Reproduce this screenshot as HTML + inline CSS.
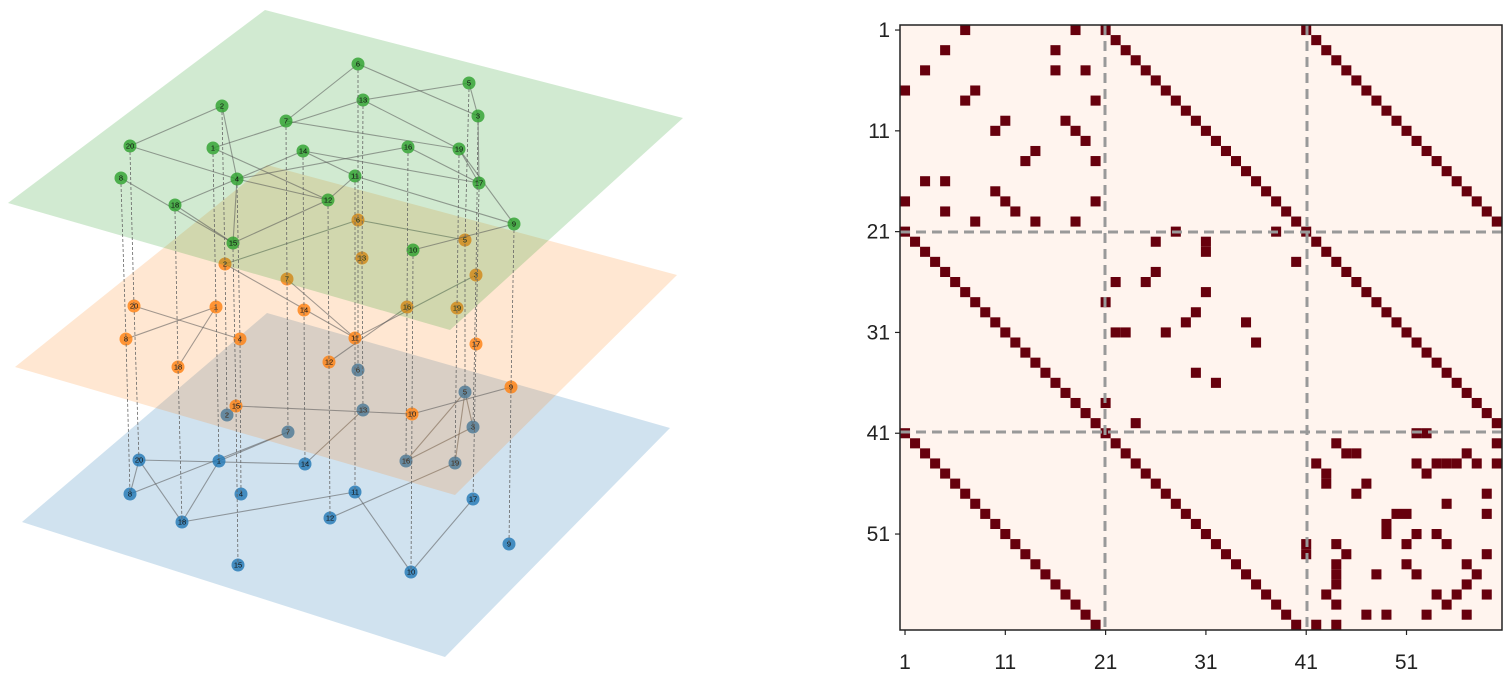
<!DOCTYPE html>
<html><head><meta charset="utf-8"><style>
html,body{margin:0;padding:0;background:#fff;}
svg{display:block;font-family:"Liberation Sans","DejaVu Sans",sans-serif;}
</style></head><body>
<svg id="s" width="1512" height="679" viewBox="0 0 1512 679" xmlns="http://www.w3.org/2000/svg">
<g id="left"></g>
<g id="right"></g>
</svg>
<script>
const NS="http://www.w3.org/2000/svg";
function el(p,t,a,txt){const e=document.createElementNS(NS,t);for(const k in a)e.setAttribute(k,a[k]);if(txt!==undefined)e.textContent=txt;p.appendChild(e);return e;}
const L=document.getElementById('left'),R=document.getElementById('right');
const G={6:[358,64],5:[469,83],2:[222,106],13:[363,100],3:[478,116],7:[286,121],20:[130,146],1:[213,148],14:[303,151],16:[408,147],19:[459,149],8:[121,178],4:[237,179],11:[355,176],17:[479,183],18:[175,205],12:[328,200],9:[514,224],15:[233,243],10:[413,250]};
const O={6:[358,220],5:[465,240],2:[225,264],13:[362,258],7:[287,279],3:[476,275],20:[134,306],1:[216,307],14:[304,310],16:[407,307],19:[457,308],8:[126,339],4:[240,339],11:[355,338],17:[476,344],18:[178,367],12:[329,362],9:[511,387],15:[236,406],10:[412,414]};
const B={6:[358,370],5:[465,392],2:[227,415],13:[363,410],7:[288,432],3:[473,427],20:[139,460],1:[219,461],14:[305,464],16:[406,461],19:[455,463],8:[130,494],4:[241,494],11:[355,492],17:[473,499],18:[182,522],12:[330,518],9:[509,544],15:[238,565],10:[411,572]};
const E1=[[1,7],[1,18],[3,5],[3,16],[5,16],[5,19],[7,8],[8,20],[10,11],[10,17],[11,18],[12,19],[13,14],[14,20],[18,20]];
const E2=[[1,8],[1,18],[2,6],[2,11],[3,11],[4,20],[5,6],[7,11],[9,10],[10,15],[12,16]];
const E3=[[1,12],[1,13],[2,4],[2,20],[3,5],[3,6],[3,17],[4,12],[4,14],[4,15],[4,16],[4,18],[4,20],[5,13],[6,7],[7,19],[8,15],[9,10],[9,11],[9,19],[11,12],[11,14],[12,15],[14,17],[15,18],[16,17],[17,19],[13,19]];
function layer(poly,fill,P,E,col){
 el(L,'polygon',{points:poly,fill:fill});
 for(const [a,b] of E){el(L,'line',{x1:P[a][0],y1:P[a][1],x2:P[b][0],y2:P[b][1],stroke:'#555','stroke-opacity':0.55,'stroke-width':1.1});}
 for(let i=1;i<=20;i++){el(L,'circle',{cx:P[i][0],cy:P[i][1],r:6.5,fill:col,'fill-opacity':0.8});
  el(L,'text',{x:P[i][0],y:P[i][1]+2.7,'font-size':7.5,'text-anchor':'middle',fill:'#111'},String(i));}
}
layer('22,522 267,313 670,428 445,657','rgba(31,119,180,0.21)',B,E1,'#1f77b4');
layer('15,367 267,165 677,275 455,495','rgba(255,127,14,0.19)',O,E2,'#ff7f0e');
layer('8,203 265,10 683,118 450,330','rgba(44,160,44,0.22)',G,E3,'#2ca02c');
for(let i=1;i<=20;i++){el(L,'polyline',{points:`${G[i][0]},${G[i][1]+6} ${O[i][0]},${O[i][1]} ${B[i][0]},${B[i][1]}`,fill:'none',stroke:'#666','stroke-width':0.8,'stroke-dasharray':'3,2'});}
const x0=900,y0=25,cw=10.03,ch=10.08;
el(R,'rect',{x:x0,y:y0,width:602,height:605,fill:'#fff4ee'});
const set=new Set();
function add(r,c){set.add(r+','+c);set.add(c+','+r);}
for(let i=1;i<=20;i++){add(i,i+20);add(i,i+40);add(i+20,i+40);}
for(const [a,b] of E1)add(a,b);
for(const [a,b] of E2)add(a+20,b+20);
for(const [a,b] of E3)add(a+40,b+40);
for(const k of set){const [r,c]=k.split(',').map(Number);
 el(R,'rect',{x:(x0+(c-1)*cw).toFixed(2),y:(y0+(r-1)*ch).toFixed(2),width:cw.toFixed(2),height:ch.toFixed(2),fill:'#67000d'});}
const vx=[1105,1307],hy=[232,432];
for(const x of vx)el(R,'line',{x1:x,y1:y0,x2:x,y2:630,stroke:'#999','stroke-width':3,'stroke-dasharray':'10,6'});
for(const y of hy)el(R,'line',{x1:x0,y1:y,x2:1502,y2:y,stroke:'#999','stroke-width':3,'stroke-dasharray':'10,6'});
el(R,'rect',{x:x0,y:y0,width:602,height:605,fill:'none',stroke:'#222','stroke-width':1.5});
const labs=[1,11,21,31,41,51];
for(const v of labs){const cy=y0+(v-0.5)*ch, cx=x0+(v-0.5)*cw;
 el(R,'line',{x1:x0,y1:cy,x2:x0-5,y2:cy,stroke:'#222','stroke-width':1.2});
 el(R,'text',{x:x0-10,y:cy+7,'font-size':21,'text-anchor':'end',fill:'#222'},String(v));
 el(R,'line',{x1:cx,y1:630,x2:cx,y2:635,stroke:'#222','stroke-width':1.2});
 el(R,'text',{x:cx,y:669,'font-size':21,'text-anchor':'middle',fill:'#222'},String(v));}
</script>
</body></html>
